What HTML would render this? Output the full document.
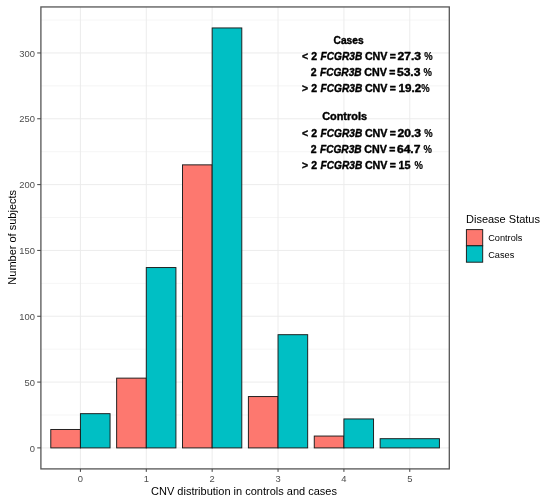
<!DOCTYPE html>
<html><head><meta charset="utf-8"><title>CNV distribution</title>
<style>html,body{margin:0;padding:0;background:#fff}svg{display:block}text{font-family:"Liberation Sans",Arial,sans-serif}</style></head><body>
<svg width="550" height="503" viewBox="0 0 550 503">
<rect width="550" height="503" fill="#fff"/>
<g stroke="#ebebeb" fill="none">
<line x1="40.9" x2="449.3" y1="414.99" y2="414.99" stroke-width="0.5"/>
<line x1="40.9" x2="449.3" y1="349.17" y2="349.17" stroke-width="0.5"/>
<line x1="40.9" x2="449.3" y1="283.34" y2="283.34" stroke-width="0.5"/>
<line x1="40.9" x2="449.3" y1="217.52" y2="217.52" stroke-width="0.5"/>
<line x1="40.9" x2="449.3" y1="151.70" y2="151.70" stroke-width="0.5"/>
<line x1="40.9" x2="449.3" y1="85.87" y2="85.87" stroke-width="0.5"/>
<line x1="40.9" x2="449.3" y1="20.05" y2="20.05" stroke-width="0.5"/>
<line x1="40.9" x2="449.3" y1="447.90" y2="447.90" stroke-width="0.95"/>
<line x1="40.9" x2="449.3" y1="382.08" y2="382.08" stroke-width="0.95"/>
<line x1="40.9" x2="449.3" y1="316.26" y2="316.26" stroke-width="0.95"/>
<line x1="40.9" x2="449.3" y1="250.43" y2="250.43" stroke-width="0.95"/>
<line x1="40.9" x2="449.3" y1="184.61" y2="184.61" stroke-width="0.95"/>
<line x1="40.9" x2="449.3" y1="118.78" y2="118.78" stroke-width="0.95"/>
<line x1="40.9" x2="449.3" y1="52.96" y2="52.96" stroke-width="0.95"/>
<line y1="6.95" y2="468.9" x1="80.42" x2="80.42" stroke-width="0.95"/>
<line y1="6.95" y2="468.9" x1="146.29" x2="146.29" stroke-width="0.95"/>
<line y1="6.95" y2="468.9" x1="212.16" x2="212.16" stroke-width="0.95"/>
<line y1="6.95" y2="468.9" x1="278.04" x2="278.04" stroke-width="0.95"/>
<line y1="6.95" y2="468.9" x1="343.91" x2="343.91" stroke-width="0.95"/>
<line y1="6.95" y2="468.9" x1="409.78" x2="409.78" stroke-width="0.95"/>
</g>
<g stroke="#1a1a1a" stroke-width="0.95" stroke-linejoin="miter">
<rect x="50.78" y="429.47" width="29.64" height="18.43" fill="#FD786F"/>
<rect x="80.42" y="413.67" width="29.64" height="34.23" fill="#00BFC4"/>
<rect x="116.65" y="378.13" width="29.64" height="69.77" fill="#FD786F"/>
<rect x="146.29" y="267.55" width="29.64" height="180.36" fill="#00BFC4"/>
<rect x="182.52" y="164.86" width="29.64" height="283.04" fill="#FD786F"/>
<rect x="212.16" y="27.95" width="29.64" height="419.95" fill="#00BFC4"/>
<rect x="248.39" y="396.56" width="29.64" height="51.34" fill="#FD786F"/>
<rect x="278.04" y="334.69" width="29.64" height="113.22" fill="#00BFC4"/>
<rect x="314.26" y="436.05" width="29.64" height="11.85" fill="#FD786F"/>
<rect x="343.91" y="418.94" width="29.64" height="28.96" fill="#00BFC4"/>
<rect x="380.14" y="438.69" width="59.28" height="9.22" fill="#00BFC4"/>
</g>
<rect x="40.9" y="6.95" width="408.40" height="461.95" fill="none" stroke="#555" stroke-width="1.3"/>
<g stroke="#444" stroke-width="1">
<line x1="37.199999999999996" x2="40.9" y1="447.90" y2="447.90"/>
<line x1="37.199999999999996" x2="40.9" y1="382.08" y2="382.08"/>
<line x1="37.199999999999996" x2="40.9" y1="316.26" y2="316.26"/>
<line x1="37.199999999999996" x2="40.9" y1="250.43" y2="250.43"/>
<line x1="37.199999999999996" x2="40.9" y1="184.61" y2="184.61"/>
<line x1="37.199999999999996" x2="40.9" y1="118.78" y2="118.78"/>
<line x1="37.199999999999996" x2="40.9" y1="52.96" y2="52.96"/>
<line y1="468.9" y2="471.9" x1="80.42" x2="80.42"/>
<line y1="468.9" y2="471.9" x1="146.29" x2="146.29"/>
<line y1="468.9" y2="471.9" x1="212.16" x2="212.16"/>
<line y1="468.9" y2="471.9" x1="278.04" x2="278.04"/>
<line y1="468.9" y2="471.9" x1="343.91" x2="343.91"/>
<line y1="468.9" y2="471.9" x1="409.78" x2="409.78"/>
</g>
<g fill="#4d4d4d" font-size="9.4px">
<text x="34.9" y="451.50" text-anchor="end">0</text>
<text x="34.9" y="385.68" text-anchor="end">50</text>
<text x="34.9" y="319.86" text-anchor="end">100</text>
<text x="34.9" y="254.03" text-anchor="end">150</text>
<text x="34.9" y="188.21" text-anchor="end">200</text>
<text x="34.9" y="122.38" text-anchor="end">250</text>
<text x="34.9" y="56.56" text-anchor="end">300</text>
<text x="80.42" y="482" text-anchor="middle">0</text>
<text x="146.29" y="482" text-anchor="middle">1</text>
<text x="212.16" y="482" text-anchor="middle">2</text>
<text x="278.04" y="482" text-anchor="middle">3</text>
<text x="343.91" y="482" text-anchor="middle">4</text>
<text x="409.78" y="482" text-anchor="middle">5</text>
</g>
<text x="244" y="494.5" font-size="11px" text-anchor="middle" fill="#000">CNV distribution in controls and cases</text>
<text transform="translate(16.2,237.3) rotate(-90)" font-size="11px" text-anchor="middle" fill="#000">Number of subjects</text>
<text x="466" y="223.3" font-size="11px" fill="#000">Disease Status</text>
<rect x="466.4" y="229.6" width="16.3" height="16.2" fill="#FD786F" stroke="#1a1a1a" stroke-width="0.95"/>
<rect x="466.4" y="245.8" width="16.3" height="16.4" fill="#00BFC4" stroke="#1a1a1a" stroke-width="0.95"/>
<text x="488.2" y="241.1" font-size="9.2px" fill="#000">Controls</text>
<text x="488.2" y="258.4" font-size="9.2px" fill="#000">Cases</text>
<g font-size="10.6px" font-weight="bold" fill="#000" stroke="#000" stroke-width="0.4" stroke-linejoin="round">
<text x="333.6" y="43.6" textLength="30" lengthAdjust="spacingAndGlyphs">Cases</text>
<text y="59.6"><tspan x="302.0" textLength="6.1" lengthAdjust="spacingAndGlyphs">&lt;</tspan> <tspan x="311.3" textLength="5.85" lengthAdjust="spacingAndGlyphs">2</tspan> <tspan x="320.6" textLength="41.6" lengthAdjust="spacingAndGlyphs" font-style="italic">FCGR3B</tspan> <tspan x="364.9" textLength="22.6" lengthAdjust="spacingAndGlyphs">CNV</tspan> <tspan x="389.8" textLength="6.1" lengthAdjust="spacingAndGlyphs">=</tspan> <tspan x="397.5" textLength="23.6" lengthAdjust="spacingAndGlyphs">27.3</tspan> <tspan x="424.3" textLength="8.4" lengthAdjust="spacingAndGlyphs" stroke-width="0.2">%</tspan></text>
<text y="75.6"><tspan x="310.7" textLength="5.85" lengthAdjust="spacingAndGlyphs">2</tspan> <tspan x="320.0" textLength="41.6" lengthAdjust="spacingAndGlyphs" font-style="italic">FCGR3B</tspan> <tspan x="364.3" textLength="22.6" lengthAdjust="spacingAndGlyphs">CNV</tspan> <tspan x="389.2" textLength="6.1" lengthAdjust="spacingAndGlyphs">=</tspan> <tspan x="396.9" textLength="23.6" lengthAdjust="spacingAndGlyphs">53.3</tspan> <tspan x="423.6" textLength="8.4" lengthAdjust="spacingAndGlyphs" stroke-width="0.2">%</tspan></text>
<text y="91.6"><tspan x="302.0" textLength="6.1" lengthAdjust="spacingAndGlyphs">&gt;</tspan> <tspan x="311.3" textLength="5.85" lengthAdjust="spacingAndGlyphs">2</tspan> <tspan x="320.6" textLength="41.6" lengthAdjust="spacingAndGlyphs" font-style="italic">FCGR3B</tspan> <tspan x="364.9" textLength="22.6" lengthAdjust="spacingAndGlyphs">CNV</tspan> <tspan x="389.8" textLength="6.1" lengthAdjust="spacingAndGlyphs">=</tspan> <tspan x="398.6" textLength="22.6" lengthAdjust="spacingAndGlyphs">19.2</tspan><tspan x="421.3" textLength="8.4" lengthAdjust="spacingAndGlyphs" stroke-width="0.2">%</tspan></text>
<text x="322.2" y="120.3" textLength="44.8" lengthAdjust="spacingAndGlyphs">Controls</text>
<text y="136.6"><tspan x="302.0" textLength="6.1" lengthAdjust="spacingAndGlyphs">&lt;</tspan> <tspan x="311.3" textLength="5.85" lengthAdjust="spacingAndGlyphs">2</tspan> <tspan x="320.6" textLength="41.6" lengthAdjust="spacingAndGlyphs" font-style="italic">FCGR3B</tspan> <tspan x="364.9" textLength="22.6" lengthAdjust="spacingAndGlyphs">CNV</tspan> <tspan x="389.8" textLength="6.1" lengthAdjust="spacingAndGlyphs">=</tspan> <tspan x="397.5" textLength="23.6" lengthAdjust="spacingAndGlyphs">20.3</tspan> <tspan x="424.3" textLength="8.4" lengthAdjust="spacingAndGlyphs" stroke-width="0.2">%</tspan></text>
<text y="152.6"><tspan x="310.7" textLength="5.85" lengthAdjust="spacingAndGlyphs">2</tspan> <tspan x="320.0" textLength="41.6" lengthAdjust="spacingAndGlyphs" font-style="italic">FCGR3B</tspan> <tspan x="364.3" textLength="22.6" lengthAdjust="spacingAndGlyphs">CNV</tspan> <tspan x="389.2" textLength="6.1" lengthAdjust="spacingAndGlyphs">=</tspan> <tspan x="396.9" textLength="23.6" lengthAdjust="spacingAndGlyphs">64.7</tspan> <tspan x="423.6" textLength="8.4" lengthAdjust="spacingAndGlyphs" stroke-width="0.2">%</tspan></text>
<text y="168.6"><tspan x="302.0" textLength="6.1" lengthAdjust="spacingAndGlyphs">&gt;</tspan> <tspan x="311.3" textLength="5.85" lengthAdjust="spacingAndGlyphs">2</tspan> <tspan x="320.6" textLength="41.6" lengthAdjust="spacingAndGlyphs" font-style="italic">FCGR3B</tspan> <tspan x="364.9" textLength="22.6" lengthAdjust="spacingAndGlyphs">CNV</tspan> <tspan x="389.8" textLength="6.1" lengthAdjust="spacingAndGlyphs">=</tspan> <tspan x="398.6" textLength="12" lengthAdjust="spacingAndGlyphs">15</tspan> <tspan x="414.6" textLength="8.4" lengthAdjust="spacingAndGlyphs" stroke-width="0.2">%</tspan></text>
</g>
</svg></body></html>
